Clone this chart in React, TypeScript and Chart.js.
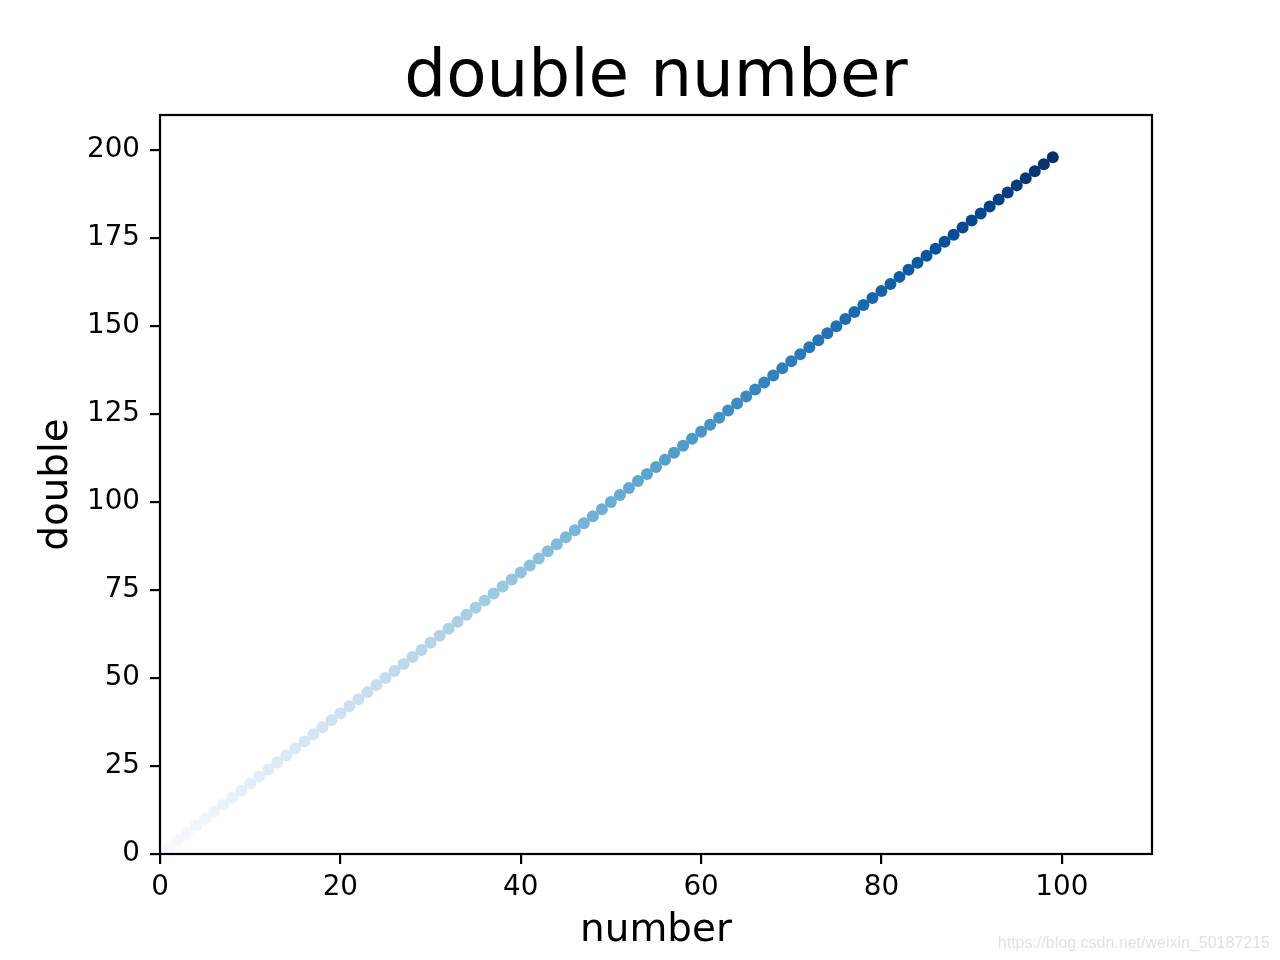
import React, { useEffect, useRef } from "react";
import Chart from "chart.js/auto";

// x values and their doubles, as plotted
const numbers: number[] = [
  0, 1, 2, 3, 4, 5, 6, 7, 8, 9, 10, 11, 12, 13, 14, 15, 16, 17, 18, 19,
  20, 21, 22, 23, 24, 25, 26, 27, 28, 29, 30, 31, 32, 33, 34, 35, 36, 37, 38, 39,
  40, 41, 42, 43, 44, 45, 46, 47, 48, 49, 50, 51, 52, 53, 54, 55, 56, 57, 58, 59,
  60, 61, 62, 63, 64, 65, 66, 67, 68, 69, 70, 71, 72, 73, 74, 75, 76, 77, 78, 79,
  80, 81, 82, 83, 84, 85, 86, 87, 88, 89, 90, 91, 92, 93, 94, 95, 96, 97, 98, 99,
];
const doubles: number[] = [
  0, 2, 4, 6, 8, 10, 12, 14, 16, 18, 20, 22, 24, 26, 28, 30, 32, 34, 36, 38,
  40, 42, 44, 46, 48, 50, 52, 54, 56, 58, 60, 62, 64, 66, 68, 70, 72, 74, 76, 78,
  80, 82, 84, 86, 88, 90, 92, 94, 96, 98, 100, 102, 104, 106, 108, 110, 112, 114, 116, 118,
  120, 122, 124, 126, 128, 130, 132, 134, 136, 138, 140, 142, 144, 146, 148, 150, 152, 154, 156, 158,
  160, 162, 164, 166, 168, 170, 172, 174, 176, 178, 180, 182, 184, 186, 188, 190, 192, 194, 196, 198,
];

const titleText = "double number";
const xLabel = "number";
const yLabel = "double";
const watermark = "https://blog.csdn.net/weixin_50187215";

// matplotlib "Blues" colormap stops
const blues = [
  "#f7fbff", "#deebf7", "#c6dbef", "#9ecae1", "#6baed6",
  "#4292c6", "#2171b5", "#08519c", "#08306b",
];

function hexToRgb(h: string) {
  return [1, 3, 5].map((i) => parseInt(h.slice(i, i + 2), 16));
}

function bluesAt(t: number): string {
  const pos = Math.max(0, Math.min(1, t)) * (blues.length - 1);
  const i = Math.min(Math.floor(pos), blues.length - 2);
  const f = pos - i;
  const a = hexToRgb(blues[i]);
  const b = hexToRgb(blues[i + 1]);
  const c = a.map((v, k) => Math.round(v + (b[k] - v) * f));
  return `rgb(${c[0]}, ${c[1]}, ${c[2]})`;
}

const FONT = "'DejaVu Sans', sans-serif";

// axes frame + title centred over the plot area (like matplotlib)
const frame = {
  id: "frame",
  afterDraw(chart: Chart) {
    const { ctx, chartArea } = chart;
    ctx.save();
    ctx.strokeStyle = "#000";
    ctx.lineWidth = 2.2;
    ctx.strokeRect(chartArea.left, chartArea.top, chartArea.right - chartArea.left, chartArea.bottom - chartArea.top);
    ctx.fillStyle = "#000";
    ctx.font = `66px ${FONT}`;
    ctx.textAlign = "center";
    ctx.textBaseline = "middle";
    ctx.fillText(titleText, (chartArea.left + chartArea.right) / 2, 79);
    ctx.restore();
  },
};

const App: React.FC = () => {
  const chartRef = useRef<HTMLCanvasElement>(null);
  const chartInstanceRef = useRef<Chart<"scatter"> | null>(null);

  useEffect(() => {
    document.body.style.margin = "0";
    if (!chartRef.current) return;
    const ctx = chartRef.current.getContext("2d");
    if (!ctx) return;
    if (chartInstanceRef.current) chartInstanceRef.current.destroy();

    const lo = Math.min(...doubles);
    const hi = Math.max(...doubles);
    const colors = doubles.map((v) => bluesAt((v - lo) / (hi - lo)));

    chartInstanceRef.current = new Chart(ctx, {
      type: "scatter",
      data: {
        datasets: [
          {
            data: numbers.map((x, i) => ({ x, y: doubles[i] })),
            backgroundColor: colors,
            borderWidth: 0,
            pointRadius: 6,
            pointHoverRadius: 6,
            clip: 0,
          },
        ],
      },
      options: {
        responsive: false,
        animation: false,
        layout: { padding: { left: 0, right: 128, top: 115, bottom: 0 } },
        plugins: {
          legend: { display: false },
          tooltip: { enabled: false },
          title: { display: false },
        },
        scales: {
          x: {
            type: "linear",
            min: 0,
            max: 110,
            ticks: {
              stepSize: 20,
              color: "#000",
              font: { family: FONT, size: 27.8 },
              padding: 7,
              maxRotation: 0,
            },
            afterBuildTicks: (s: any) => {
              s.ticks = s.ticks.filter((t: any) => t.value <= 100);
            },
            afterFit: (s: any) => {
              s.height = 106;
            },
            grid: {
              drawOnChartArea: false,
              drawTicks: true,
              tickLength: 10,
              color: "#000",
              lineWidth: 2.2,
            },
            border: { display: false },
            title: {
              display: true,
              text: xLabel,
              color: "#000",
              font: { family: FONT, size: 38.9 },
              padding: { top: 0, bottom: 6 },
            },
          },
          y: {
            type: "linear",
            min: 0,
            max: 210,
            ticks: {
              stepSize: 25,
              color: "#000",
              font: { family: FONT, size: 27.8 },
              padding: 10,
            },
            afterBuildTicks: (s: any) => {
              s.ticks = s.ticks.filter((t: any) => t.value <= 200);
            },
            afterFit: (s: any) => {
              s.width = 160;
            },
            grid: {
              drawOnChartArea: false,
              drawTicks: true,
              tickLength: 10,
              color: "#000",
              lineWidth: 2.2,
            },
            border: { display: false },
            title: {
              display: true,
              text: yLabel,
              color: "#000",
              font: { family: FONT, size: 38.9 },
              padding: { top: 34, bottom: 0 },
            },
          },
        },
      },
      plugins: [frame],
    });

    return () => {
      if (chartInstanceRef.current) {
        chartInstanceRef.current.destroy();
        chartInstanceRef.current = null;
      }
    };
  }, []);

  return (
    <div style={{ position: "relative", width: 1280, height: 960, background: "#fff" }}>
      <canvas ref={chartRef} width={1280} height={960} />
      <div
        style={{
          position: "absolute",
          right: 10,
          bottom: 8,
          fontFamily: "'Liberation Sans', Arial, sans-serif",
          fontSize: 16,
          color: "#e2e2e2",
        }}
      >
        {watermark}
      </div>
    </div>
  );
};

export default App;
